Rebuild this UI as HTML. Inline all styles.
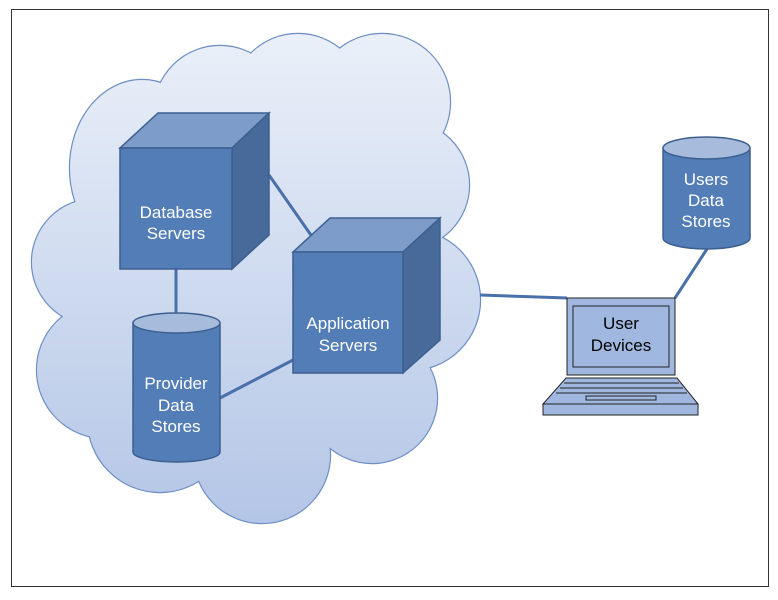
<!DOCTYPE html>
<html><head><style>body{margin:0;background:#fff}svg{display:block}</style></head><body>
<svg width="778" height="600" viewBox="0 0 778 600" xmlns="http://www.w3.org/2000/svg" font-family="Liberation Sans, sans-serif">
<defs>
<linearGradient id="g" gradientUnits="userSpaceOnUse" x1="0" y1="34" x2="0" y2="530">
<stop offset="0" stop-color="#eaf0f9"/><stop offset="1" stop-color="#b3c5e6"/></linearGradient>
<g id="cl">
<circle cx="95" cy="262" r="63"/><circle cx="105" cy="370" r="68"/><ellipse cx="142" cy="168" rx="72" ry="88"/>
<circle cx="220" cy="112" r="66"/><circle cx="298" cy="100" r="66"/><circle cx="382" cy="102" r="68"/>
<circle cx="405" cy="185" r="64"/><circle cx="410" cy="300" r="70"/><circle cx="372" cy="398" r="65"/>
<circle cx="262" cy="455" r="68"/><circle cx="160" cy="420" r="72"/><circle cx="260" cy="280" r="150"/>
</g>
</defs>
<rect x="11.5" y="9.5" width="757" height="577" fill="#fff" stroke="#333" stroke-width="1"/>
<use href="#cl" fill="none" stroke="#6f8fc4" stroke-width="2.4"/>
<use href="#cl" fill="url(#g)"/>
<g stroke="#4a70aa" stroke-width="3" fill="none">
<line x1="176" y1="269" x2="176" y2="313"/>
<line x1="269" y1="175" x2="313" y2="238"/>
<line x1="220" y1="398" x2="293" y2="360"/>
<line x1="480" y1="295" x2="567" y2="298"/>
<line x1="707" y1="249" x2="675" y2="298"/>
</g>
<g stroke="#3d5f8f" stroke-width="1.5">
<polygon points="120,148 158,113 269,113 232,148" fill="#7d9cca"/>
<polygon points="232,148 269,113 269,235 232,269" fill="#476a9b"/>
<rect x="120" y="148" width="112" height="121" fill="#527db6"/>
<polygon points="293,252 330,218 440,218 403,252" fill="#7d9cca"/>
<polygon points="403,252 440,218 440,340 403,373" fill="#476a9b"/>
<rect x="293" y="252" width="110" height="121" fill="#527db6"/>
<path d="M133,323 V452 A43.5,10 0 0 0 220,452 V323" fill="#527db6"/>
<ellipse cx="176.5" cy="323" rx="43.5" ry="10" fill="#a7bbdc"/>
<path d="M663,148 V238 A43.5,11 0 0 0 750,238 V148" fill="#527db6"/>
<ellipse cx="706.5" cy="148" rx="43.5" ry="11" fill="#a7bbdc"/>
</g>
<g stroke="#222" stroke-width="1" fill="#a0b8e0">
<rect x="567" y="298" width="108" height="77"/>
<rect x="573" y="306" width="96" height="61"/>
<polygon points="566,378 677,378 698,404 543,404"/>
<rect x="543" y="404" width="155" height="11"/>
<line x1="564" y1="383" x2="679" y2="383"/><line x1="560" y1="388" x2="683" y2="388"/><line x1="556" y1="393" x2="687" y2="393"/>
<rect x="586" y="396" width="70" height="4"/>
</g>
<g fill="#fff" font-size="17" text-anchor="middle">
<text x="176" y="218">Database</text><text x="176" y="239">Servers</text>
<text x="348" y="329">Application</text><text x="348" y="351">Servers</text>
<text x="176" y="389">Provider</text><text x="176" y="411">Data</text><text x="176" y="432">Stores</text>
<text x="706" y="185">Users</text><text x="706" y="206">Data</text><text x="706" y="227">Stores</text>
</g>
<g fill="#000" font-size="17" text-anchor="middle">
<text x="621" y="329">User</text><text x="621" y="351">Devices</text>
</g>
</svg>
</body></html>
